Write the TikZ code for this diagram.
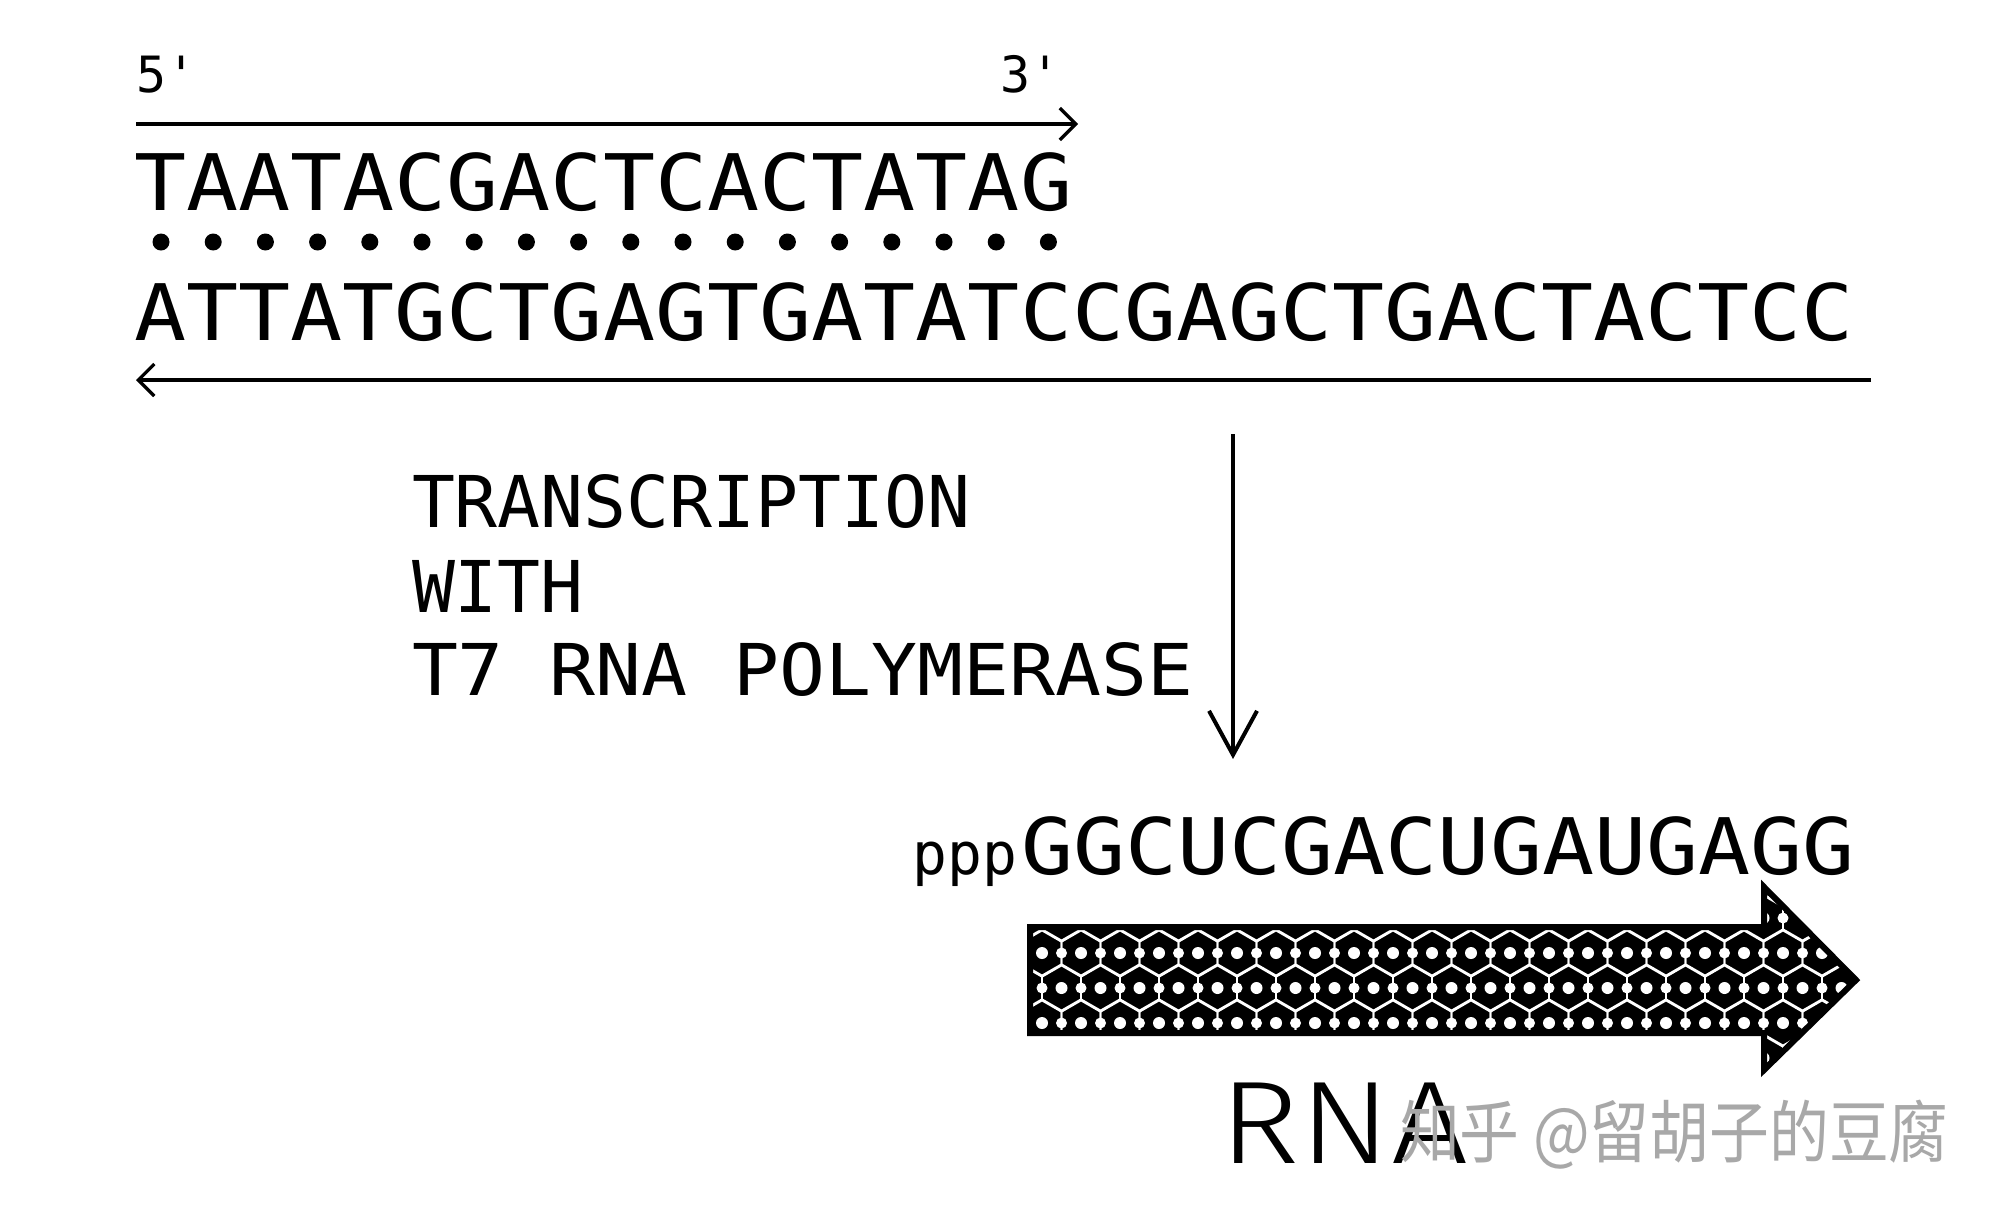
\documentclass[tikz,border=0pt]{standalone}
\usepackage{fontspec}
\usepackage{xcolor}
\usepackage{tikz}
\usetikzlibrary{positioning, arrows.meta}
\newfontfamily\seqfont[FakeStretch=1.11]{DejaVu Sans Mono}
\newfontfamily\monofont{DejaVu Sans Mono}
\newfontfamily\widemono[FakeStretch=1.07]{DejaVu Sans Mono}
\newfontfamily\rnafont[FakeStretch=1.16]{Fira Sans Light}
\newfontfamily\cjkfont[FakeStretch=0.88]{Noto Sans CJK SC}

\begin{document}
\begin{tikzpicture}
        [ x=0.5pt, y=-0.5pt
        , every node/.style={inner sep=0pt, outer sep=0pt}
        , seq/.style={anchor=base west, font=\seqfont\fontsize{39}{39}\selectfont}
        , endlbl/.style={anchor=base west, font=\monofont\fontsize{25}{25}\selectfont}
        , tx/.style={anchor=base west, font=\monofont\fontsize{35.7}{36}\selectfont}
        , pair/.style={circle, fill=black, minimum size=8.5pt}
        , strand/.style={line width=1.6pt, -{Straight Barb[length=8pt, width=16pt, line width=1.6pt]}}
        , trans/.style={line width=2pt, -{Straight Barb[length=22pt, width=24pt, line width=2pt]}}
        , hexline/.style={draw=white, line width=0.9pt}
        ]
        \definecolor{wmgray}{RGB}{168,168,168}
        \useasboundingbox[fill=white] (0,0) rectangle (2000,1221);

        % DNA template
        \node (five) [endlbl] at (136,92) {5'};
        \node (three) [endlbl] at (1000,92) {3'};
        \coordinate (tl) at (136,124);
        \coordinate (tr) at (1078,124);
        \draw[strand] (tl) -- (tr);
        \node (top) [seq] at (134,210) {TAATACGACTCACTATAG};
        \foreach \i in {0,...,17}
            \node (pair\i) [pair] at (161+52.2*\i,242) {};
        \node (bot) [seq] at (134,340) {ATTATGCTGAGTGATATCCGAGCTGACTACTCC};
        \coordinate (bl) at (136,380);
        \coordinate (br) at (1871,380);
        \draw[strand] (br) -- (bl);

        % transcription step
        \node (tr1) [tx] at (412,527) {TRANSCRIPTION};
        \node (tr2) [tx] at (412,612) {WITH};
        \node (tr3) [tx, font=\widemono\fontsize{35.7}{36}\selectfont] at (412,695) {T7 RNA POLYMERASE};
        \coordinate (vs) at (1233,434);
        \coordinate (ve) at (1233,759);
        \draw[trans] (vs) -- (ve);

        % product
        \node (rnaseq) [seq] at (1021,874) {GGCUCGACUGAUGAGG};
        \node (ppp) [left=2pt of rnaseq.base west, anchor=base east, font=\monofont\fontsize{29}{29}\selectfont] {ppp};

        \begin{scope}
            \clip (1030,927) -- (1764,927) -- (1764,887) -- (1856,980)
                -- (1764,1070) -- (1764,1033) -- (1030,1033) -- cycle;
            \fill[black] (1000,860) rectangle (1900,1100);
            \foreach \row in {0,...,6} {
                \foreach \col in {-1,...,22} {
                    \pgfmathsetmacro\hx{1042+39*\col+19.5*isodd(\row)}
                    \pgfmathsetmacro\hy{883+35*\row}
                    \draw[hexline] (\hx,\hy) +(30:22.5) -- +(90:22.5) -- +(150:22.5)
                        -- +(210:22.5) -- +(270:22.5) -- +(330:22.5) -- cycle;
                    \fill[white] (\hx,\hy) circle (6);
                    \fill[white] (\hx+19.5,\hy) circle (5.5);
                }
            }
        \end{scope}
        \draw[line width=3pt, line join=miter] (1030,927) -- (1764,927) -- (1764,887) -- (1856,980)
            -- (1764,1070) -- (1764,1033) -- (1030,1033) -- cycle;

        \node (rna) [anchor=base west, font=\rnafont\fontsize{58.8}{59}\selectfont] at (1219,1163) {RNA};
        \node (wm) [anchor=base west, text=wmgray, font=\cjkfont\fontsize{34}{34}\selectfont] at (1400,1157) {知乎 @留胡子的豆腐};
    \end{tikzpicture}
\end{document}
